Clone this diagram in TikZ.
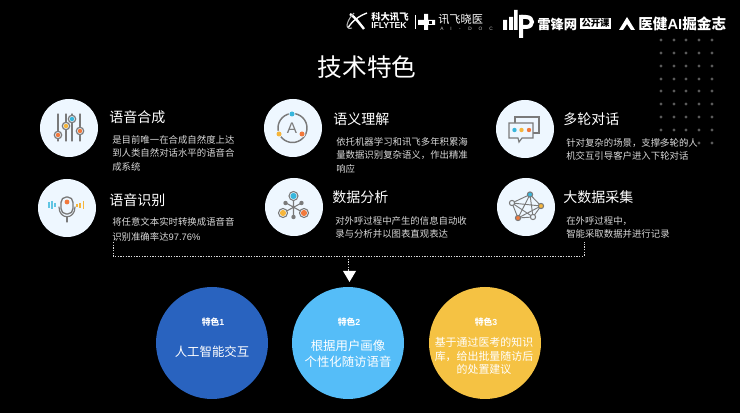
\documentclass[tikz,border=0pt]{standalone}
\usepackage{fontspec}
\setmainfont{Noto Sans CJK SC}
\newfontfamily\latinfont{Liberation Sans}
\definecolor{ic}{HTML}{7A7A7A}
\definecolor{icb}{HTML}{38B6DC}
\definecolor{icy}{HTML}{F6B63C}
\definecolor{ico}{HTML}{F2793C}
\definecolor{pale}{HTML}{EEF7FF}
\definecolor{bodyc}{HTML}{D8D8D8}
\definecolor{dotc}{HTML}{5A5A5A}
\definecolor{bigblue}{RGB}{41,99,191}
\definecolor{bigsky}{RGB}{85,189,248}
\definecolor{bigyel}{RGB}{245,194,67}
\newlength{\pxu}\setlength{\pxu}{0.75pt}
\tikzset{
 iconbg/.style={circle,fill=pale,minimum size=58\pxu,inner sep=0pt},
 head/.style={anchor=west,text=white,font=\fontsize{10.5pt}{12pt}\selectfont,inner sep=0pt},
 bodytext/.style={anchor=north west,text=bodyc,align=left,inner sep=0pt,font=\fontsize{7.05pt}{10.1pt}\selectfont},
 big/.style={circle,minimum size=112\pxu,inner sep=0pt},
 bigtitle/.style={text=white,font=\bfseries\fontsize{6.6pt}{8pt}\selectfont,inner sep=0pt},
 bigtext/.style={text=white,align=center,inner sep=0pt},
 ln/.style={draw=ic,line width=0.9pt,line cap=round},
 dashline/.style={draw=white!85!black,line width=0.4pt,dash pattern=on 1pt off 1pt},
 logo/.style={text=white,inner sep=0pt,anchor=west},
}
\begin{document}
\begin{tikzpicture}[x=0.75pt,y=-0.75pt]
\path[use as bounding box,fill=black] (0,0) rectangle (740,413);
% dot grid
\foreach \y in {40,53,66,79,91,104,117,130,143}{\foreach \x in {661,674,686,699,712}{
 \fill[dotc] (\x,\y) circle (1.7);}}
% title
\node[text=white,font=\fontsize{18.5pt}{22pt}\selectfont,inner sep=0pt] (title) at (367,67) {技术特色};
% logos
\node[logo,font=\fontsize{7pt}{8pt}\selectfont\bfseries] (kd) at (371,17) {科大讯飞};
\node[logo,font=\latinfont\bfseries\fontsize{6.5pt}{7pt}\selectfont] (ifly) at (371,26) {IFLYTEK};
\draw[white,line width=1.8pt] (350,14) .. controls (355,17) and (360,24) .. (364,29);
\draw[white,line width=1pt] (348,28) .. controls (352,21) and (359,16) .. (367,13);
\draw[white!70!black,line width=0.8pt] (347,25) .. controls (348,20) and (351,16) .. (354,13);
\draw[white!70!black,line width=0.8pt] (347,25) .. controls (347,28) and (349,29) .. (352,28);
\draw[white,line width=0.4pt] (415.5,15) -- (415.5,29);
\fill[white] (424,14) rectangle (428,30) (418,20) rectangle (435,25);
\fill[black] (429,21) rectangle (432,24);
\node[logo,font=\fontsize{8.4pt}{9pt}\selectfont] (xf) at (438,19) {讯飞晓医};
\node[logo,font=\latinfont\fontsize{3.6pt}{4pt}\selectfont,text=white!80!black] (aidoc) at (440,28.5) {A\hskip 5.2pt I\hskip 5.6pt -\hskip 5.6pt D\hskip 5.2pt O\hskip 5.2pt C};
\fill[white] (503,20) rectangle (507,30) (509,17) rectangle (513,30) (514,10) rectangle (517.5,30) (519,15) rectangle (523,38);
\draw[white,line width=3pt] (521,17) -- (526,17) .. controls (534,17) and (534,27) .. (526,27) -- (521,27);
\node[logo,font=\bfseries\fontsize{10pt}{11pt}\selectfont] (lfw) at (537,24) {雷锋网};
\fill[white] (580,18) rectangle (611,29);
\node[text=black,inner sep=0pt,font=\bfseries\fontsize{7pt}{8pt}\selectfont] (gkk) at (595.5,23.5) {公开课};
\fill[white] (619,30) -- (627,17) -- (635,30) -- (631,30) -- (627,24) -- (623,30) -- cycle;
\node[logo,font=\bfseries\fontsize{11pt}{12pt}\selectfont] (yj) at (638,24) {医健{\latinfont AI}掘金志};
% small icons
\node[iconbg] (i1) at (69,128) {};
\node[iconbg] (i2) at (67,208) {};
\node[iconbg] (i3) at (293,128) {};
\node[iconbg] (i4) at (294,207) {};
\node[iconbg] (i5) at (525,129) {};
\node[iconbg] (i6) at (526,207) {};
% text
\node[head] (h1) at (109,117) {语音合成};
\node[bodytext] (b1) at (112,135) {是目前唯一在合成自然度上达\\到人类自然对话水平的语音合\\成系统};
\node[head] (h2) at (109,200) {语音识别};
\node[bodytext,font=\fontsize{7.05pt}{10.8pt}\selectfont] (b2) at (112,217.5) {将任意文本实时转换成语音音\\识别准确率达{\latinfont 97.76\%}};
\node[head] (h3) at (333,119) {语义理解};
\node[bodytext] (b3) at (336,137) {依托机器学习和讯飞多年积累海\\量数据识别复杂语义，作出精准\\响应};
\node[head] (h4) at (332,197) {数据分析};
\node[bodytext] (b4) at (335,216) {对外呼过程中产生的信息自动收\\录与分析并以图表直观表达};
\node[head] (h5) at (563,119) {多轮对话};
\node[bodytext] (b5) at (566,138) {针对复杂的场景，支撑多轮的人\\机交互引导客户进入下轮对话};
\node[head] (h6) at (563,197) {大数据采集};
\node[bodytext] (b6) at (566,216) {在外呼过程中，\\智能采取数据并进行记录};
% icon 1
\foreach \x in {58,66,72,80}{\draw[ln] (\x,114) -- (\x,141);}
\foreach \x/\y/\c in {58/135/ico,66/126/icy,72/119/icb,80/131/ico}{
 \fill[pale] (\x,\y) circle (4.2);\draw[ic,line width=0.9pt] (\x,\y) circle (3.7);\fill[\c] (\x,\y) circle (2.2);}
% icon 2
\draw[ic,line width=1pt,rounded corners=4pt] (61,197) rectangle (73,214);
\fill[ico] (67,202) circle (2.4);
\draw[ln] (59,207) .. controls (59,220) and (75,220) .. (75,207);
\draw[ln] (67,217) -- (67,222);
\draw[icb!80!white,line width=0.9pt] (49,202) -- (49,208) (52,201) -- (52,209) (55,203) -- (55,207);
\draw[icy,line width=0.9pt] (77,204) -- (77,207) (80,203) -- (80,208) (83.5,201) -- (83.5,209);
% icon 3
\draw[ic,line width=1.1pt] (292.5,128) circle (14.5);
\node[text=ic,inner sep=0pt,font=\latinfont\fontsize{11.5pt}{12pt}\selectfont] (Aa) at (292,128) {A};
\foreach \x/\y/\c in {292/114/icb,279/134/icy,302/134/ico}{
 \fill[pale] (\x,\y) circle (3.4);\fill[\c] (\x,\y) circle (2.5);}
% icon 4
\draw[ic,line width=0.8pt] (293.5,196) -- (293.5,217) (286,203) -- (304,213) (301.5,203) -- (283,213);
\fill[ic] (285.5,203) circle (2.2) (301.5,203) circle (2.2) (293.5,217) circle (2.2);
\foreach \x/\y/\c in {293.5/196/icb,283/213/icy,304/213/ico}{
 \draw[ic,fill=pale,line width=0.8pt] (\x,\y) circle (4.5);\fill[\c] (\x,\y) circle (3.1);}
% icon 5
\draw[ic,line width=0.9pt] (515,123) -- (515,117) -- (539,117) -- (539,133) -- (533,133);
\draw[ic,line width=0.9pt,fill=pale] (509,123) -- (533,123) -- (533,138) -- (522,138) -- (519,142) -- (518,138) -- (509,138) -- cycle;
\fill[icb] (514.5,130) circle (2.2);\fill[icy] (521.5,130) circle (2.2);\fill[ico] (529,130) circle (2.2);
% icon 6
\coordinate (n1) at (530,194.5);
\coordinate (n2) at (541,206);
\coordinate (n3) at (533,217);
\coordinate (n4) at (518,218);
\coordinate (n5) at (512,203);
\draw[ic,line width=0.7pt] (n1)--(n2)--(n3)--(n4)--(n5)--cycle (n1)--(n3)--(n5)--(n2)--(n4)--cycle;
\foreach \p/\c in {n1/icb,n2/icy,n4/ico,n3/pale,n5/pale}{
 \draw[ic,fill=\c,line width=0.8pt] (\p) circle (2.6);}
% big circles
\node[big,fill=bigblue] (c1) at (212,343) {};
\node[big,fill=bigsky] (c2) at (348,343) {};
\node[big,fill=bigyel] (c3) at (485,343) {};
\node[bigtitle] (t1) at (213,322) {特色{\latinfont 1}};
\node[bigtitle] (t2) at (349,322) {特色{\latinfont 2}};
\node[bigtitle] (t3) at (486,322) {特色{\latinfont 3}};
\node[bigtext,font=\fontsize{9.3pt}{11pt}\selectfont] (d1) at (212,351.5) {人工智能交互};
\node[bigtext,font=\fontsize{9.3pt}{12pt}\selectfont] (d2) at (348,353.5) {根据用户画像\\个性化随访语音};
\node[bigtext,font=\fontsize{8.2pt}{9.9pt}\selectfont] (d3) at (484,356) {基于通过医考的知识\\库，给出批量随访后\\的处置建议};
% dashed bracket
\coordinate (dl) at (113,242);
\coordinate (dr) at (584,242);
\coordinate (dm) at (348,256);
\coordinate (da) at (348,271);
\draw[dashline] (dl) |- (dm) -| (dr);
\draw[dashline] (dm) -- (da);
\fill[white] (343,271) -- (356,271) -- (349.5,282) -- cycle;
\end{tikzpicture}
\end{document}
